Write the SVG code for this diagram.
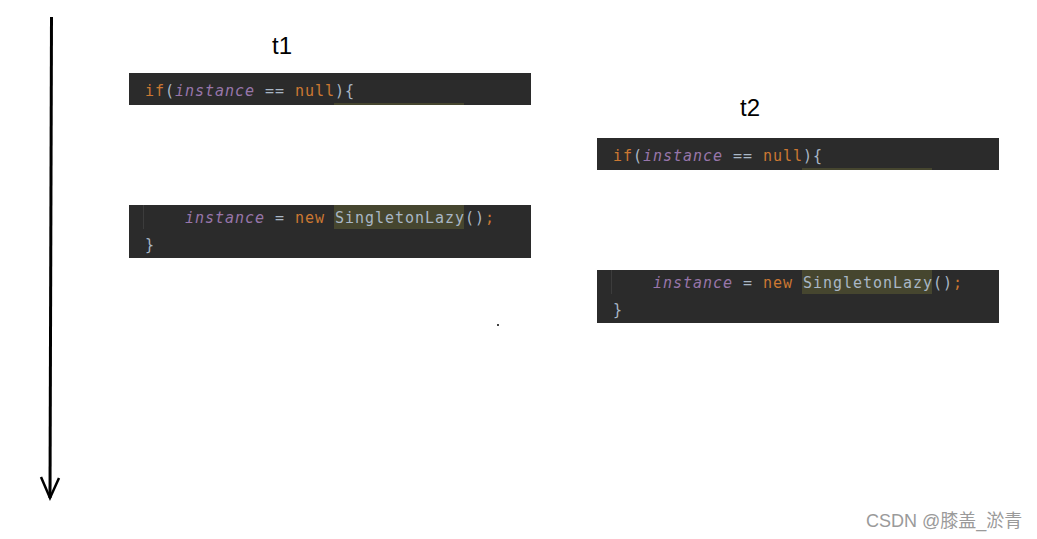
<svg xmlns="http://www.w3.org/2000/svg" width="1037" height="539" viewBox="0 0 1037 539">
<style>
.bg{fill:#2b2b2b}
.hl{fill:#46462f}
.guide{stroke:#3c3c3c;stroke-width:1}
.code{font-family:"DejaVu Sans Mono","Liberation Mono",monospace;font-size:15px;letter-spacing:0.97px}
.kw{fill:#cc7832}
.var{fill:#9876aa;font-style:italic}
.pl{fill:#a9b7c6}
.lbl{font-family:"Liberation Sans","Noto Sans",sans-serif;font-size:24px;fill:#000}
.wm{font-family:"Liberation Sans","Noto Sans CJK SC",sans-serif;font-size:18px;fill:#9a9a9a}
</style>
<g id="timeline">
<line x1="51.5" y1="17" x2="50" y2="498" stroke="#000" stroke-width="3"/>
<polyline points="41,477 50,498 59,478" fill="none" stroke="#000" stroke-width="2.5"/>
</g>
<g id="t1-label"><text class="lbl" x="272" y="54">t1</text></g>
<g id="t2-label"><text class="lbl" x="740" y="116">t2</text></g>
<g id="t1-if">
<rect class="bg" x="129" y="73" width="402" height="32"/>
<rect class="hl" x="334" y="103" width="130" height="2"/>
<text class="code" y="96"><tspan class="kw" x="145">if</tspan><tspan class="pl" x="165">(</tspan><tspan class="var" x="175">instance</tspan><tspan class="pl" x="265">==</tspan><tspan class="kw" x="295">null</tspan><tspan class="pl" x="335">){</tspan></text>
</g>
<g id="t1-new">
<rect class="bg" x="129" y="205" width="402" height="53"/>
<rect class="hl" x="334" y="205" width="130" height="24"/>
<line class="guide" x1="143.5" y1="205" x2="143.5" y2="229"/>
<text class="code" y="223"><tspan class="var" x="185">instance</tspan><tspan class="pl" x="275">=</tspan><tspan class="kw" x="295">new</tspan><tspan class="pl" x="335">SingletonLazy()</tspan><tspan class="kw" x="485">;</tspan></text>
<text class="code pl" x="145" y="250">}</text>
</g>
<g id="t2-if">
<rect class="bg" x="597" y="138" width="402" height="32"/>
<rect class="hl" x="802" y="168" width="130" height="2"/>
<text class="code" y="161"><tspan class="kw" x="613">if</tspan><tspan class="pl" x="633">(</tspan><tspan class="var" x="643">instance</tspan><tspan class="pl" x="733">==</tspan><tspan class="kw" x="763">null</tspan><tspan class="pl" x="803">){</tspan></text>
</g>
<g id="t2-new">
<rect class="bg" x="597" y="270" width="402" height="53"/>
<rect class="hl" x="802" y="270" width="130" height="24"/>
<line class="guide" x1="611.5" y1="270" x2="611.5" y2="294"/>
<text class="code" y="288"><tspan class="var" x="653">instance</tspan><tspan class="pl" x="743">=</tspan><tspan class="kw" x="763">new</tspan><tspan class="pl" x="803">SingletonLazy()</tspan><tspan class="kw" x="953">;</tspan></text>
<text class="code pl" x="613" y="315">}</text>
</g>
<rect x="497" y="324" width="2" height="2" fill="#444"/>
<text class="wm" x="866" y="527">CSDN @膝盖_淤青</text>
</svg>
